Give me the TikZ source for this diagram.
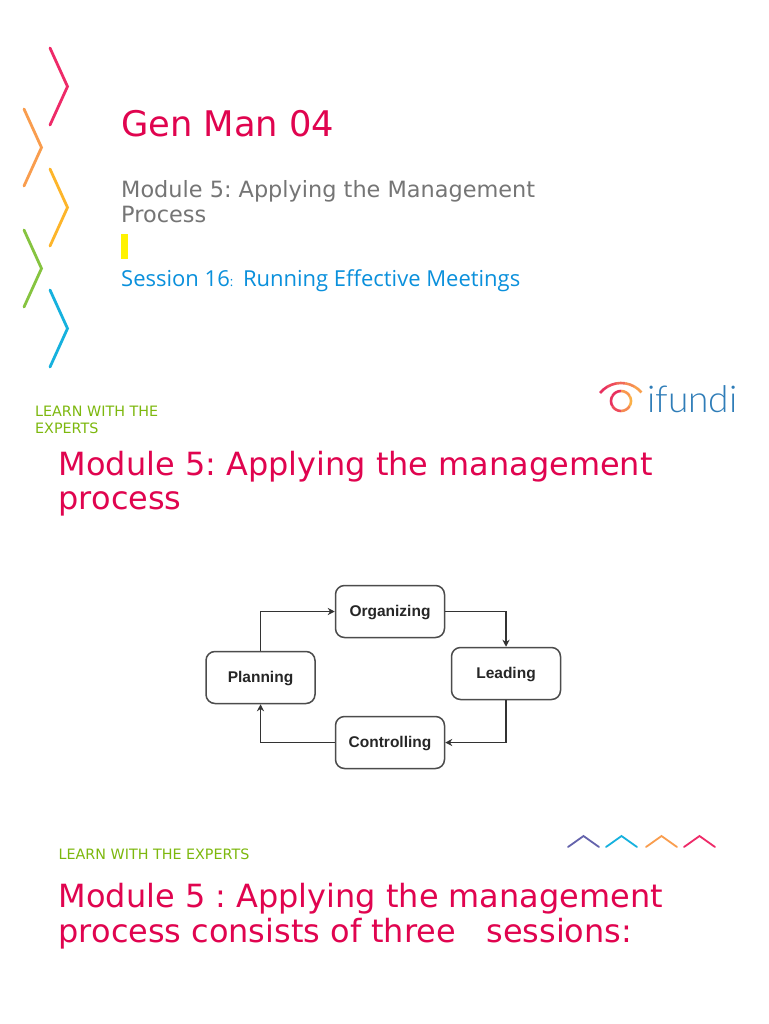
\documentclass[tikz,border=0pt]{standalone}
\usepackage{fontspec}
\setmainfont{DejaVu Sans}
\newfontfamily\sessionfont{Open Sans}
\newfontfamily\logofont{Lato Light}
\newfontfamily\boxfont{Liberation Sans}
\usetikzlibrary{positioning, arrows.meta}
\frenchspacing
\definecolor{crimson}{HTML}{E0044F}
\definecolor{slidegrey}{HTML}{757575}
\definecolor{sessionblue}{HTML}{0A90DC}
\definecolor{learngreen}{HTML}{7DB80E}
\definecolor{logoblue}{HTML}{2F7DB8}
\definecolor{chevpink}{HTML}{EE2A68}
\definecolor{chevorange}{HTML}{F99D4E}
\definecolor{chevyellow}{HTML}{FDB52A}
\definecolor{chevgreen}{HTML}{86C440}
\definecolor{chevblue}{HTML}{16B1DE}
\definecolor{chevviolet}{HTML}{6463AC}

\begin{document}
\begin{tikzpicture}[
    x=1pt, y=-1pt,
    title/.style={anchor=base west, inner sep=0pt, text=crimson, font=\fontsize{#1}{#1}\selectfont},
    subtitle/.style={anchor=base west, inner sep=0pt, text=slidegrey, font=\fontsize{22.4}{22.4}\selectfont},
    learn/.style={anchor=base west, inner sep=0pt, text=learngreen, font=\fontsize{14.3}{14.3}\selectfont},
    chevron/.style={line width=#1, line cap=round, line join=miter},
    stage/.style={draw=black!70, line width=1.5pt, rounded corners=9pt, minimum width=109pt, minimum height=52pt, inner sep=0pt, text height=11.5pt, text depth=2.5pt, font=\boxfont\bfseries\fontsize{15.5}{15.5}\selectfont, text=black!85},
    flow/.style={draw=black!80, line width=1.7pt, -{Stealth[length=7pt,width=7pt]}}
]
    \useasboundingbox (0,0) rectangle (768,1024);
    \fill[white] (0,0) rectangle (768,1024);

    % Chevrons down the left side
    \foreach \cx/\cy/\ccol in {50/48/chevpink, 24/109/chevorange, 50/169/chevyellow, 24/230/chevgreen, 50/290/chevblue}
        \draw[chevron=2.8pt, \ccol] (\cx,\cy) -- ++(17.5,38.5) -- ++(-17.5,38.5);

    % Title block
    \node[title=35.3] (gentitle) at (121,137) {Gen Man 04};
    \node[subtitle] (modline) at (121,198) {Module 5: Applying the Management};
    \node[subtitle] (procline) at (121,222.3) {Process};
    \fill[yellow] (121,234) rectangle (128,259);
    \node[anchor=base west, inner sep=0pt, text=sessionblue, font=\sessionfont\fontsize{22}{22}\selectfont] (session) at (121,286.5) {Session 16{\fontsize{13}{13}\selectfont:}\hspace{4pt} Running Effective Meetings};

    % Footer of the first slide
    \node[learn] (learnone) at (35,416) {LEARN WITH THE};
    \node[learn] (learntwo) at (35,433.5) {EXPERTS};

    % Logo
    \foreach \ang/\lcol in {141/E8305F, 121/EE4A5C, 101/F06A58, 81/F58A52, 61/F9A04D}{
        \definecolor{logotint}{HTML}{\lcol}
        \draw[logotint, line width=2.6pt] (621,410) ++(-\ang:27) arc[start angle=-\ang, end angle=-\ang+20.4, radius=27];
    }
    \foreach \ang/\lcol in {90/E8305F, 150/E8305F, 210/EE4A5C, 270/F58A52, 330/FBB048, 30/F9974E}{
        \definecolor{logotint}{HTML}{\lcol}
        \draw[logotint, line width=2.6pt] (621,401) ++(-\ang:10) arc[start angle=-\ang, end angle=-\ang-60, radius=10];
    }
    \node[anchor=base west, inner sep=0pt, text=logoblue, font=\logofont\fontsize{37}{37}\selectfont] (logotext) at (647,412) {ifundi};

    % Second slide
    \node[title=31.95] (secondone) at (58.5,475) {Module 5: Applying the management};
    \node[title=31.95] (secondtwo) at (58.5,509) {process};

    % Process cycle
    \node[stage] (organizing) at (390,611.5) {Organizing};
    \node[stage] (planning) at (260.5,677.5) {Planning};
    \node[stage] (leading) at (506,673.5) {Leading};
    \node[stage] (controlling) at (390,742.5) {Controlling};

    \draw[flow] (planning.north) |- (organizing.west);
    \draw[flow] (organizing.east) -| (leading.north);
    \draw[flow] (leading.south) |- (controlling.east);
    \draw[flow] (controlling.west) -| (planning.south);

    % Third slide
    \node[learn] (learnthree) at (58.5,859) {LEARN WITH THE EXPERTS};
    \foreach \cx/\ccol in {568/chevviolet, 606/chevblue, 646/chevorange, 684/chevpink}
        \draw[chevron=1.8pt, \ccol] (\cx,847) -- ++(15.5,-11) -- ++(15.5,11);
    \node[title=31.95] (thirdone) at (58.5,907) {Module 5 : Applying the management};
    \node[title=31.95] (thirdtwo) at (58.5,942) {process consists of three\ \ \ sessions:};
\end{tikzpicture}
\end{document}
